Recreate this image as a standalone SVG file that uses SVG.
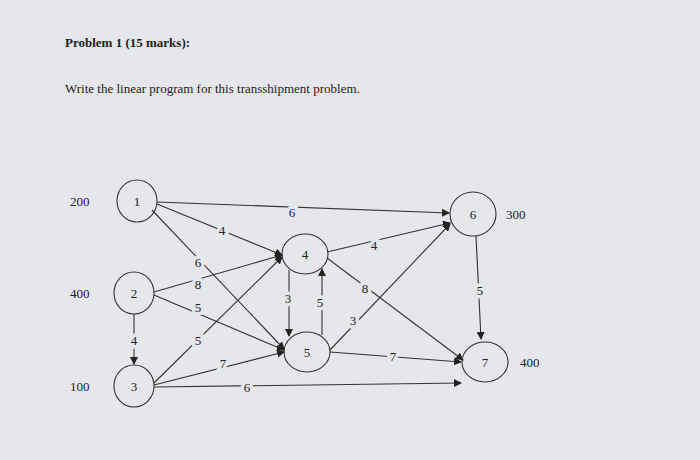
<svg xmlns="http://www.w3.org/2000/svg" width="700" height="460" viewBox="0 0 700 460">
<style>
.t{font-family:"Liberation Serif",serif;fill:#222;font-size:13px}
.n{fill:none;stroke:#333;stroke-width:1.1}
.e{stroke:#333;stroke-width:1.1;fill:none}
.l{font-family:"Liberation Serif",serif;font-size:13px;fill:#222;text-anchor:middle;dominant-baseline:central;stroke:#e6e7ea;stroke-width:7px;paint-order:stroke}
</style>
<defs><marker id="a" markerWidth="8" markerHeight="8" refX="7" refY="4" orient="auto" markerUnits="userSpaceOnUse"><path d="M0,0L8,4L0,8z" fill="#222"/></marker></defs>
<rect width="700" height="460" fill="#e6e7ea"/>
<text class="t" x="65" y="47" font-weight="bold" font-size="15">Problem 1 (15 marks):</text>
<text class="t" x="65" y="93" font-size="14.5">Write the linear program for this transshipment problem.</text>
<g id="edges">
<line class="e" x1="157" y1="202" x2="449" y2="213" marker-end="url(#a)"/>
<line class="e" x1="157" y1="204" x2="282" y2="255" marker-end="url(#a)"/>
<line class="e" x1="152" y1="210" x2="284" y2="349" marker-end="url(#a)"/>
<line class="e" x1="154" y1="292" x2="282" y2="255" marker-end="url(#a)"/>
<line class="e" x1="154" y1="295" x2="284" y2="350" marker-end="url(#a)"/>
<line class="e" x1="134" y1="314" x2="134" y2="364" marker-end="url(#a)"/>
<line class="e" x1="154" y1="383" x2="282" y2="257" marker-end="url(#a)"/>
<line class="e" x1="154" y1="385" x2="284" y2="352" marker-end="url(#a)"/>
<line class="e" x1="154" y1="387" x2="461" y2="383" marker-end="url(#a)"/>
<line class="e" x1="289" y1="270" x2="289" y2="336" marker-end="url(#a)"/>
<line class="e" x1="322" y1="335" x2="322" y2="269" marker-end="url(#a)"/>
<line class="e" x1="327" y1="252" x2="450" y2="223" marker-end="url(#a)"/>
<line class="e" x1="327" y1="258" x2="463" y2="360" marker-end="url(#a)"/>
<line class="e" x1="330" y1="350" x2="450" y2="224" marker-end="url(#a)"/>
<line class="e" x1="330" y1="352" x2="461" y2="362" marker-end="url(#a)"/>
<line class="e" x1="476" y1="236" x2="481" y2="339" marker-end="url(#a)"/>
<text class="l" x="292" y="212">6</text>
<text class="l" x="222" y="230">4</text>
<text class="l" x="198" y="262">6</text>
<text class="l" x="198" y="284">8</text>
<text class="l" x="198" y="307">5</text>
<text class="l" x="134" y="340">4</text>
<text class="l" x="198" y="340">5</text>
<text class="l" x="223" y="363">7</text>
<text class="l" x="247" y="387">6</text>
<text class="l" x="288" y="298">3</text>
<text class="l" x="320" y="302">5</text>
<text class="l" x="374" y="245">4</text>
<text class="l" x="365" y="288">8</text>
<text class="l" x="353" y="320">3</text>
<text class="l" x="393" y="356">7</text>
<text class="l" x="480" y="290">5</text>
</g>
<g id="n1"><ellipse class="n" cx="137" cy="201" rx="20" ry="21"/><text class="l" x="137" y="201">1</text></g>
<g id="n2"><ellipse class="n" cx="134" cy="293" rx="20" ry="21"/><text class="l" x="134" y="293">2</text></g>
<g id="n3"><ellipse class="n" cx="134" cy="386" rx="20" ry="21"/><text class="l" x="134" y="386">3</text></g>
<g id="n4"><ellipse class="n" cx="305" cy="254" rx="23" ry="20"/><text class="l" x="305" y="254">4</text></g>
<g id="n5"><ellipse class="n" cx="307" cy="352" rx="23" ry="20"/><text class="l" x="307" y="352">5</text></g>
<g id="n6"><ellipse class="n" cx="473" cy="214" rx="23" ry="22"/><text class="l" x="473" y="214">6</text></g>
<g id="n7"><ellipse class="n" cx="485" cy="362" rx="23" ry="20"/><text class="l" x="485" y="362">7</text></g>
<g id="supply">
<text class="t" x="70" y="201" dominant-baseline="central">200</text>
<text class="t" x="70" y="293" dominant-baseline="central">400</text>
<text class="t" x="70" y="386" dominant-baseline="central">100</text>
<text class="t" x="506" y="214" dominant-baseline="central">300</text>
<text class="t" x="520" y="362" dominant-baseline="central">400</text>
</g>
</svg>
